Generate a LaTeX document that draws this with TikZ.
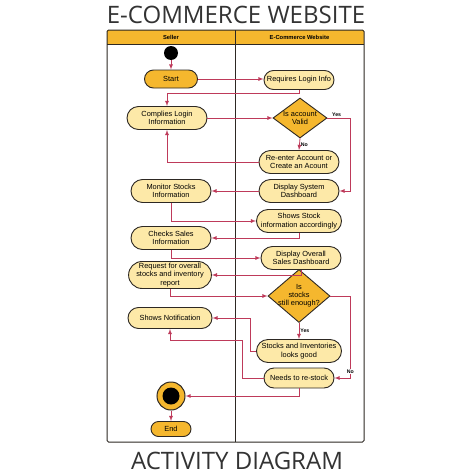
\documentclass[tikz,border=0pt]{standalone}
\usepackage{fontspec}
\setmainfont{Liberation Sans}
\newfontfamily\titlefont{Open Sans}
\usepackage{tikz}
\usetikzlibrary{calc,shapes,arrows}

\definecolor{gold}{RGB}{245,183,46}
\definecolor{paleyellow}{RGB}{253,233,168}
\definecolor{flowred}{RGB}{190,58,90}
\definecolor{edge}{RGB}{45,40,35}

\begin{document}
\begin{tikzpicture}[x=1pt,y=-1pt,
    act/.style={rounded rectangle, draw=edge, line width=0.9pt, fill=paleyellow,
        font=\fontsize{7.4}{8.2}\selectfont, align=center, inner xsep=1pt, inner ysep=1pt,
        minimum width=82pt, minimum height=23pt},
    term/.style={act, fill=gold, minimum width=55pt, minimum height=18pt},
    dec/.style={diamond, draw=edge, line width=0.9pt, fill=gold, inner sep=-3pt, aspect=1.3,
        font=\fontsize{7.4}{8.2}\selectfont, align=center},
    flow/.style={draw=flowred, line width=0.8pt, -latex},
    lbl/.style={font=\bfseries\fontsize{5.2}{6}\selectfont, text=black, inner sep=1pt}]
    \useasboundingbox (0,0) rectangle (474,474);
    \fill[white] (0,0) rectangle (474,474);

    % titles
    \node[font=\titlefont\fontsize{24}{28}\selectfont, text=black!80] (title) at (236,15) {E-COMMERCE WEBSITE};
    \node[font=\titlefont\fontsize{24}{28}\selectfont, text=black!80] (subtitle) at (237,461) {ACTIVITY DIAGRAM};

    % swimlanes
    \fill[gold] (107,30) rectangle (364,44);
    \draw[edge, line width=0.9pt] (107,44) -- (364,44);
    \draw[edge, line width=0.9pt] (235,30) -- (235,442);
    \draw[edge, line width=1pt, rounded corners=1.5pt] (107,30) rectangle (364,442);
    \node[font=\bfseries\fontsize{5.8}{6}\selectfont] (seller) at (171,37) {Seller};
    \node[font=\bfseries\fontsize{5.8}{6}\selectfont] (website) at (299.5,37) {E-Commerce Website};

    % seller lane
    \node[circle, fill=black, minimum size=14pt, inner sep=0pt] (init) at (171,53) {};
    \node[term] (start) at (171,79) {Start};
    \node[act] (complies) at (167,118) {Complies Login\\Information};
    \node[act] (monitor) at (171,191) {Monitor Stocks\\Information};
    \node[act] (checks) at (171,238) {Checks Sales\\Information};
    \node[act, minimum height=27pt] (request) at (170,275) {Request for overall\\stocks and inventory\\report};
    \node[act, minimum width=86pt, minimum height=21pt] (notif) at (170,318) {Shows Notification};
    \node[circle, draw=edge, line width=1pt, fill=gold, minimum size=28pt, inner sep=0pt] (final) at (171,396) {};
    \fill[black] (final.center) circle (8.5pt);
    \node[term, minimum width=42pt, minimum height=15pt] (endnode) at (171,429) {End};

    % website lane
    \node[act, minimum width=72pt, minimum height=19pt] (reqlogin) at (299,80) {Requires Login Info};
    \node[dec, minimum width=54pt, minimum height=40pt, aspect=1.4] (valid) at (300,118) {Is account\\Valid};
    \node[act] (reenter) at (299,162) {Re-enter Account or\\Create an Acount};
    \node[act] (dashboard) at (299,191) {Display System\\Dashboard};
    \node[act, minimum width=87pt] (showstock) at (299,221) {Shows Stock\\information accordingly};
    \node[act] (overall) at (301,258) {Display Overall\\Sales Dashboard};
    \node[dec, minimum width=62pt, minimum height=53pt, inner sep=-5pt] (stocks) at (299,296) {Is\\stocks\\still enough?};
    \node[act, minimum width=87pt] (good) at (299,351) {Stocks and Inventories\\looks good};
    \node[act, minimum width=72pt, minimum height=20pt] (restock) at (299,378) {Needs to re-stock};

    % flows
    \draw[flow] (init) -- (start);
    \draw[flow] (start.east) -- (reqlogin.west |- start.east);
    \draw[flow] (reqlogin.south) -- ++(0,3) -| (complies.north);
    \draw[flow] (complies.east) -- (valid.west);
    \draw[flow] (valid.south) -- node[lbl, right] {No} (reenter.north);
    \draw[flow] (valid.east) -- node[lbl, above, pos=0.4] {Yes} ++(23,0) |- (dashboard.east);
    \draw[flow] (reenter.west) -| (complies.south);
    \draw[flow] (dashboard.west) -- (monitor.east);
    \draw[flow] (monitor.south) |- (showstock.west);
    \draw[flow] (showstock.south) |- (checks.east);
    \draw[flow] (checks.south) |- (overall.west);
    \draw[flow] (overall.south) |- (request.east);
    \draw[flow] (request.south) |- (stocks.west);
    \draw[flow] (stocks.south) -- node[lbl, right] {Yes} (good.north);
    \draw[flow] (stocks.east) -- ++(20,0) |- node[lbl, fill=white, pos=0.46] {No} (restock.east);
    \draw[flow] (good.west) -- ++(-6,0) |- (notif.east);
    \draw[flow] (restock.west) -- ++(-21,0) |- ([yshift=-11pt]notif.south) -- (notif.south);
    \draw[flow] (restock.south) |- (final.east);
    \draw[flow] (final) -- (endnode);
\end{tikzpicture}
\end{document}
